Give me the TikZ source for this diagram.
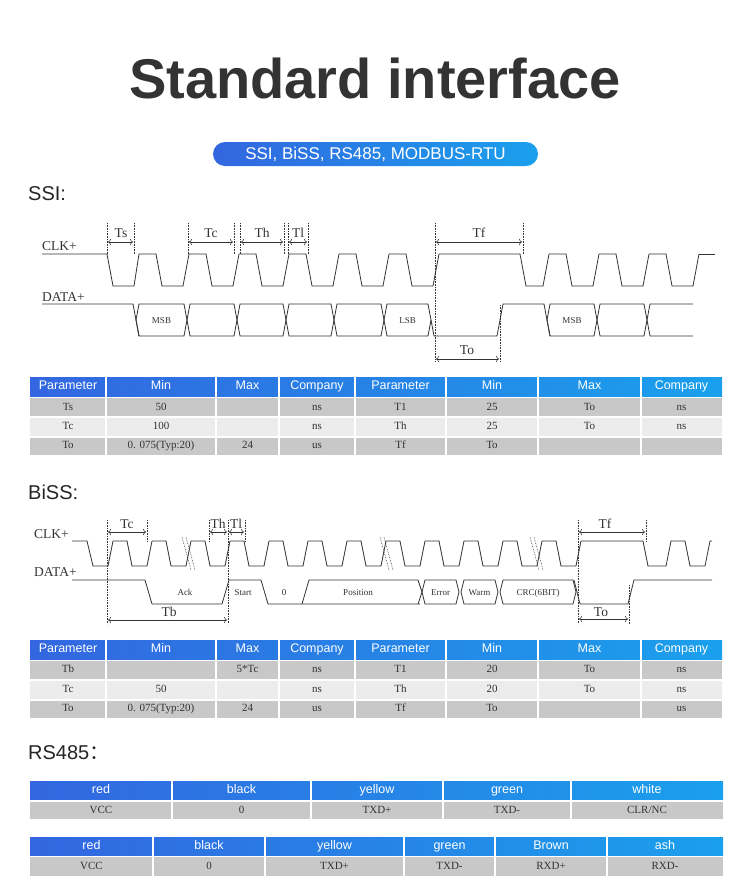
\documentclass[tikz,border=0pt]{standalone}
\usepackage{fontspec}
\setmainfont{Liberation Sans}
\newfontfamily\serf{Liberation Serif}
\newfontfamily\cjk{Noto Sans CJK SC}
\usetikzlibrary{arrows.meta}
\definecolor{hdrL}{HTML}{3366E0}
\definecolor{hdrR}{HTML}{1AA0EC}
\definecolor{rowG}{HTML}{C8C8C8}
\definecolor{rowL}{HTML}{ECECEC}
\definecolor{ink}{HTML}{333333}
\newcommand\mytrow[9]{%
  \node[bt] at (68,#1){#2}; \node[bt] at (161,#1){#3}; \node[bt] at (247.5,#1){#4};
  \node[bt] at (317,#1){#5}; \node[bt] at (400.5,#1){#6}; \node[bt] at (492,#1){#7};
  \node[bt] at (589.5,#1){#8}; \node[bt] at (681.5,#1){#9};}
\newcommand\myhrow[1]{%
  \foreach \t [count=\i] in {Parameter,Min,Max,Company,Parameter,Min,Max,Company}{
    \pgfmathsetmacro\cx{{68,161,247.5,317,400.5,492,589.5,681.5}[\i-1]}
    \node[ht] at (\cx,#1) {\t};}}
\newcommand\mytable[1]{% top y
  \shade[left color=hdrL,right color=hdrR] (30,#1) rectangle (722,#1+19);
  \fill[rowG] (30,#1+21) rectangle (722,#1+39);
  \fill[rowL] (30,#1+41) rectangle (722,#1+59);
  \fill[rowG] (30,#1+61) rectangle (722,#1+78);
  \foreach \c in {106,216,279,355,446,538,641}{\draw[white,line width=1.5] (\c,#1) -- (\c,#1+78);}
  \myhrow{#1+9.5}}
\begin{document}
\begin{tikzpicture}[x=1pt,y=-1pt,
  bt/.style={font=\serf\fontsize{11}{12}\selectfont,text=ink,inner sep=0,text height=7.5pt,text depth=2.5pt},
  ht/.style={font=\fontsize{12.5}{13}\selectfont,text=white,inner sep=0,text height=9pt,text depth=2.5pt},
  sig/.style={draw=ink,line width=0.8},
  dsh/.style={draw=ink,densely dotted,line width=0.6},
  dim/.style={draw=ink,line width=0.6,{To[length=3pt]}-{To[length=3pt]}},
  tl/.style={font=\serf\fontsize{13.5}{14}\selectfont,text=ink,inner sep=0,text height=9pt,text depth=1pt},
  sl/.style={font=\serf\fontsize{9}{10}\selectfont,text=ink,inner sep=0,text height=6pt,text depth=0pt},
  sec/.style={font=\fontsize{20}{22}\selectfont,text=black!85,anchor=base west,inner sep=0}]
\useasboundingbox[fill=white] (0,0) rectangle (750,892);
% title
\node[font=\bfseries\fontsize{56}{60}\selectfont,text=ink,anchor=base,inner sep=0] (title) at (375,98) {Standard interface};
\shade[rounded corners=12,left color=hdrL,right color=hdrR] (213,142) rectangle (538,166);
\node[font=\fontsize{17}{18}\selectfont,text=white,inner sep=0] (pill) at (375.5,154) {SSI, BiSS, RS485, MODBUS-RTU};
% ---------- SSI ----------
\node[sec] (ssi) at (28,200) {SSI:};
\node[tl,anchor=west] (clk1) at (42,246) {CLK+};
\node[tl,anchor=west] (dat1) at (42,297) {DATA+};
\draw[sig] (42,254)--(107,254)--(113,286)--(134,286)--(139,254);
\foreach \x in {139,189,239,289,339,389}{\draw[sig] (\x,254)--(\x+17,254)--(\x+23,286)--(\x+44,286)--(\x+50,254);}
\draw[sig] (439,254)--(520,254)--(526,286)--(543,286)--(549,254);
\foreach \x in {549,599,649}{\draw[sig] (\x,254)--(\x+17,254)--(\x+23,286)--(\x+44,286)--(\x+50,254);}
\draw[sig] (699,254)--(715,254);
% data
\draw[sig] (42,304)--(133,304)--(139,336);
\foreach \a/\b in {136/187,187/237,237/286,286/334,334/384,384/431,547/597,597/647}{
  \draw[sig] (\a,320)--(\a+3,304)--(\b-3,304)--(\b,320)--(\b-3,336)--(\a+3,336)--cycle;}
\draw[sig] (431,320)--(434,336)--(497,336)--(503,304)--(544,304)--(550,336);
\draw[sig] (693,304)--(650,304)--(647,320)--(650,336)--(693,336);
\node[sl] (m1) at (161.5,320) {MSB};
\node[sl] (l1) at (407.5,320) {LSB};
\node[sl] (m2) at (572,320) {MSB};
\foreach \x in {107,134,188,234,240,284,288,308,523}{\draw[dsh] (\x,223)--(\x,254);}
\draw[dsh] (435,223)--(435,362);
\draw[dsh] (500,305)--(500,362);
\draw[dim] (108,242)--(133,242); \node[tl] (ts) at (121,233) {Ts};
\draw[dim] (189,242)--(233,242); \node[tl] (tc) at (211,233) {Tc};
\draw[dim] (241,242)--(283,242); \node[tl] (th) at (262,233) {Th};
\draw[dim] (289,242)--(307,242); \node[tl] (tll) at (298,233) {Tl};
\draw[dim] (436,242)--(522,242); \node[tl] (tf) at (479,233) {Tf};
\draw[dim] (436,359)--(499,359); \node[tl] (to) at (467,350) {To};
% SSI table
\mytable{377}
\mytrow{408}{Ts}{50}{}{ns}{T1}{25}{To}{ns}
\mytrow{427}{Tc}{100}{}{ns}{Th}{25}{To}{ns}
\mytrow{446}{To}{0. 075(Typ:20)}{24}{us}{Tf}{To}{}{}
% ---------- BiSS ----------
\node[sec] (biss) at (28,499) {BiSS:};
\node[tl,anchor=west] (clk2) at (34,534) {CLK+};
\node[tl,anchor=west] (dat2) at (34,572) {DATA+};
\draw[sig] (72,541)--(87,541)--(93,566)--(108,566)--(113,541);
\foreach \k in {0,...,11}{\pgfmathsetmacro\x{113+39*\k}
  \draw[sig] (\x,541)--(\x+14,541)--(\x+19,566)--(\x+34,566)--(\x+39,541);}
\draw[sig] (581,541)--(643,541)--(648,566)--(666,566)--(671,541)--(685,541)--(690,566)--(705,566)--(710,541)--(712,541);
\foreach \x in {182,380,530}{\draw[dsh] (\x,537)--(\x+9,570); \draw[dsh] (\x+4,537)--(\x+13,570);}
\draw[sig] (72,580)--(145,580)--(152,604)--(222,604)--(229,580)--(261,580)--(268,604)--(420,604);
\draw[sig] (302,604)--(309,580)--(418,580)--(422,592)--(418,604);
\foreach \a/\b in {422/459,461/498,500/576}{
  \draw[sig] (\a,592)--(\a+3,580)--(\b-3,580)--(\b,592)--(\b-3,604)--(\a+3,604)--cycle;}
\draw[sig] (574,580)--(580,604)--(628,604)--(634,580)--(712,580);
\node[sl] (ack) at (185,592) {Ack};
\node[sl] (st) at (243,592) {Start};
\node[sl] (z) at (284,592) {0};
\node[sl] (pos) at (358,592) {Position};
\node[sl] (err) at (440.5,592) {Error};
\node[sl] (warm) at (479.5,592) {Warm};
\node[sl] (crc) at (538,592) {CRC(6BIT)};
\foreach \x in {147,209,245,646}{\draw[dsh] (\x,520)--(\x,541);}
\foreach \x in {107,228,578}{\draw[dsh] (\x,520)--(\x,624);}
\draw[dsh] (629,585)--(629,624);
\draw[dim] (108,532)--(146,532); \node[tl] (tc2) at (127,524) {Tc};
\draw[dim] (210,532)--(227,532); \node[tl] (th2) at (218,524) {Th};
\draw[dim] (229,532)--(244,532); \node[tl] (tl2) at (236,524) {Tl};
\draw[dim] (579,532)--(645,532); \node[tl] (tf2) at (605,524) {Tf};
\draw[dim] (108,620)--(227,620); \node[tl] (tb2) at (169,612) {Tb};
\draw[dim] (579,619)--(628,619); \node[tl] (to2) at (601,612) {To};
% BiSS table
\mytable{640}
\mytrow{670}{Tb}{}{5*Tc}{ns}{T1}{20}{To}{ns}
\mytrow{690}{Tc}{50}{}{ns}{Th}{20}{To}{ns}
\mytrow{709}{To}{0. 075(Typ:20)}{24}{us}{Tf}{To}{}{us}
% ---------- RS485 ----------
\node[sec] (rs) at (28,759) {RS485\cjk：};
\shade[left color=hdrL,right color=hdrR] (30,781) rectangle (723,799);
\fill[rowG] (30,802) rectangle (723,819);
\foreach \c in {172,311,443,571}{\draw[white,line width=1.5] (\c,781)--(\c,819);}
\foreach \t/\v/\cx in {red/VCC/101,black/0/241.5,yellow/TXD+/377,green/TXD-/507,white/CLR\slash NC/647}{
  \node[ht] at (\cx,790) {\t}; \node[bt] at (\cx,811) {\v};}
\shade[left color=hdrL,right color=hdrR] (30,837) rectangle (723,855);
\fill[rowG] (30,857) rectangle (723,876);
\foreach \c in {153,265,404,495,607}{\draw[white,line width=1.5] (\c,837)--(\c,876);}
\foreach \t/\v/\cx in {red/VCC/91.5,black/0/209,yellow/TXD+/334.5,green/TXD-/449.5,Brown/RXD+/551,ash/RXD-/665}{
  \node[ht] at (\cx,846) {\t}; \node[bt] at (\cx,867) {\v};}
\end{tikzpicture}
\end{document}
